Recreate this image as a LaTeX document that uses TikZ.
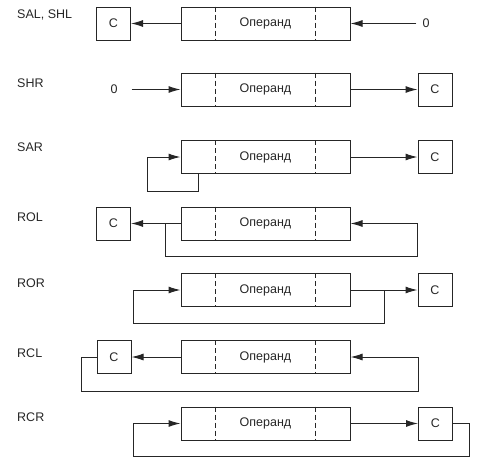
\documentclass[tikz,border=0pt]{standalone}
\usepackage{fontspec}
\setmainfont{Liberation Sans}
\usetikzlibrary{arrows.meta,calc}
\begin{document}
\begin{tikzpicture}[x=1pt,y=-1pt,
  ink/.style={draw=black!85,line width=1pt},
  opbox/.style={ink,rectangle,minimum width=169pt,minimum height=33pt,inner sep=0pt,font=\fontsize{12.5}{14}\selectfont,text=black!85},
  cbox/.style={ink,rectangle,minimum width=34pt,minimum height=33pt,inner sep=0pt,font=\fontsize{12.5}{14}\selectfont,text=black!85},
  lbl/.style={anchor=west,inner sep=0pt,font=\fontsize{12.5}{14}\selectfont,text=black!85},
  zero/.style={inner sep=0pt,font=\fontsize{12.5}{14}\selectfont,text=black!85},
  arr/.style={ink,-{Latex[length=12pt,width=7pt]}},
  divider/.style={draw=black!85,line width=1pt,dash pattern=on 5pt off 3pt}]
\useasboundingbox (0,0) rectangle (493,472);
% row 1 SAL, SHL
\node[lbl] (l1) at (17,15) {SAL, SHL};
\node[opbox] (op1) at (265.5,23.5) {Операнд};
\node[cbox] (c1) at (113.5,23.5) {C};
\node[zero] (z1) at (426,23.5) {0};
\draw[arr] (op1.west) -- (c1.east);
\draw[arr] ([xshift=-6pt]z1.west) -- (op1.east);
% row 2 SHR
\node[lbl] (l2) at (17,83) {SHR};
\node[opbox] (op2) at (265.5,89.5) {Операнд};
\node[cbox] (c2) at (435,89.5) {C};
\node[zero] (z2) at (114,89.5) {0};
\draw[arr] ([xshift=14pt]z2.east) -- (op2.west);
\draw[arr] (op2.east) -- (c2.west);
% row 3 SAR
\node[lbl] (l3) at (17,147) {SAR};
\node[opbox] (op3) at (265.5,157) {Операнд};
\node[cbox] (c3) at (435,157) {C};
\draw[arr] (op3.east) -- (c3.west);
\draw[arr] ([xshift=18pt]op3.south west) -- ++(0,17) -- ++(-51,0) |- (op3.west);
% row 4 ROL
\node[lbl] (l4) at (17,217) {ROL};
\node[opbox] (op4) at (265.5,223.5) {Операнд};
\node[cbox] (c4) at (113.5,223.5) {C};
\draw[arr] (op4.west) -- (c4.east);
\draw[arr] ([xshift=-15pt]op4.west) -- ++(0,33) -- ++(252,0) |- (op4.east);
% row 5 ROR
\node[lbl] (l5) at (17,283) {ROR};
\node[opbox] (op5) at (265.5,290) {Операнд};
\node[cbox] (c5) at (435,290) {C};
\draw[arr] (op5.east) -- (c5.west);
\draw[arr] ([xshift=34pt]op5.east) -- ++(0,33) -- ++(-251,0) |- (op5.west);
% row 6 RCL
\node[lbl] (l6) at (17,353) {RCL};
\node[opbox] (op6) at (265.5,357) {Операнд};
\node[cbox] (c6) at (114,357) {C};
\draw[arr] (op6.west) -- (c6.east);
\draw[arr] (c6.west) -- ++(-15,0) -- ++(0,34) -- ++(337,0) |- (op6.east);
% row 7 RCR
\node[lbl] (l7) at (17,417) {RCR};
\node[opbox] (op7) at (265.5,423.5) {Операнд};
\node[cbox] (c7) at (435.5,423.5) {C};
\draw[arr] (op7.east) -- (c7.west);
\draw[arr] (c7.east) -- ++(16,0) -- ++(0,33) -- ++(-336,0) |- (op7.west);
% dividers
\foreach \n in {op1,op2,op3,op4,op5,op6,op7}{
  \draw[divider] ([xshift=35pt]\n.north west) -- ([xshift=35pt]\n.south west);
  \draw[divider] ([xshift=-35pt]\n.north east) -- ([xshift=-35pt]\n.south east);
}
\end{tikzpicture}
\end{document}
